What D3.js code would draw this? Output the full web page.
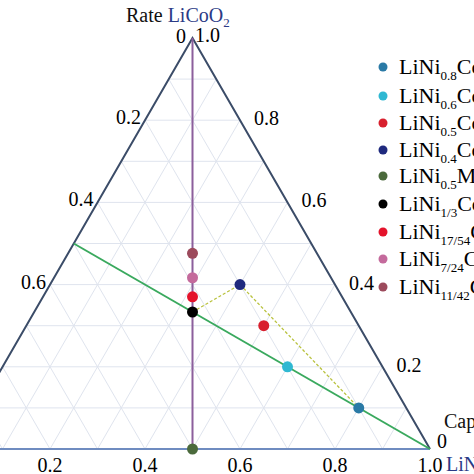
<!DOCTYPE html>
<html><head><meta charset="utf-8">
<script src="https://cdn.jsdelivr.net/npm/d3@7/dist/d3.min.js"></script>
<style>body{margin:0;background:#fff}svg{display:block;font-family:"Liberation Serif","DejaVu Serif",serif}</style>
</head><body><svg id="c" width="474" height="474"></svg>
<script>
// compositions [Ni, Co, Mn]
const names = ["0.8|Co|0.1|Mn|0.1","0.6|Co|0.2|Mn|0.2","0.5|Co|0.3|Mn|0.2","0.4|Co|0.4|Mn|0.2","0.5|Mn|0.5","1/3|Co|1/3|Mn|1/3","17/54|Co|20/54|Mn|17/54","7/24|Co|10/24|Mn|7/24","11/42|Co|20/42|Mn|11/42"];
const ni = [0.8,0.6,0.5,0.4,0.5,1/3,17/54,7/24,11/42];
const co = [0.1,0.2,0.3,0.4,0,1/3,20/54,10/24,20/42];
const colors = ["#2a7aa6","#2fb8d2","#d8202e","#1f2a7e","#4b6a3c","#000000","#e4132b","#c46a9c","#9c4a5c"];
const tickVals = [0.2,0.4,0.6,0.8];
const leftTicks = [0.2,0.4,0.6];
const rightTicks = [0.8,0.6,0.4,0.2];
const dashPath = [5,3,0];

const svg = d3.select("#c");
const x = d3.scaleLinear([0,1],[-45,430]);
const y = d3.scaleLinear([0,1],[449,38]);
const P = (n,c)=>[x(n+c/2), y(c)];
const line = d3.line();

const g = svg.append("g").attr("stroke","#dfe4ee").attr("stroke-width",1).attr("fill","none");
for(let k=1;k<10;k++){
  const t=k/10;
  g.append("path").attr("d",line([P(0,t),P(1-t,t)]));
  g.append("path").attr("d",line([P(t,0),P(t,1-t)]));
  g.append("path").attr("d",line([P(0,t),P(t,0)]));
}
svg.append("path").attr("d",line([P(0,0),P(0,1),P(1,0)])).attr("fill","none").attr("stroke","#3b4c68").attr("stroke-width",2);
svg.append("path").attr("d",line([P(0,0),P(1,0)])).attr("stroke","#6f8cc0").attr("stroke-width",2);

svg.append("path").attr("d",line([P(0,1),P(0.5,0)])).attr("stroke","#8c5f9c").attr("stroke-width",2);
svg.append("path").attr("d",line([P(1,0),P(0,0.5)])).attr("stroke","#3aa95e").attr("stroke-width",2);
svg.append("path").attr("d",line(dashPath.map(i=>P(ni[i],co[i])))).attr("fill","none").attr("stroke","#b9c23e").attr("stroke-width",1.3).attr("stroke-dasharray","3,2");

svg.selectAll("circle.p").data(ni).join("circle").attr("class","p")
  .attr("cx",(d,i)=>P(d,co[i])[0]).attr("cy",(d,i)=>P(d,co[i])[1]).attr("r",5.5).attr("fill",(d,i)=>colors[i]);

const fs=20;
svg.selectAll("text.b").data(tickVals).join("text").attr("class","b").attr("x",d=>x(d)).attr("y",472)
  .attr("text-anchor","middle").attr("font-size",fs).text(d=>d.toFixed(1));
svg.append("text").attr("x",x(1)).attr("y",472).attr("text-anchor","middle").attr("font-size",fs).text("1.0");
svg.selectAll("text.l").data(leftTicks).join("text").attr("class","l")
  .attr("x",d=>P(0,1-d)[0]-4).attr("y",d=>P(0,1-d)[1]+4).attr("text-anchor","end").attr("font-size",fs).text(d=>d.toFixed(1));
svg.selectAll("text.r").data(rightTicks).join("text").attr("class","r")
  .attr("x",d=>P(1-d,d)[0]+14).attr("y",d=>P(1-d,d)[1]+5).attr("font-size",fs).text(d=>d.toFixed(1));
svg.append("text").attr("x",437).attr("y",448).attr("font-size",fs).text("0");
svg.append("text").attr("x",186).attr("y",43).attr("text-anchor","end").attr("font-size",fs).text("0");
svg.append("text").attr("x",195).attr("y",42).attr("font-size",fs).text("1.0");

const t1=svg.append("text").attr("x",126).attr("y",22).attr("font-size",fs);
t1.append("tspan").attr("fill","#111").text("Rate ");
t1.append("tspan").attr("fill","#2b3a86").text("LiCoO");
t1.append("tspan").attr("fill","#2b3a86").attr("font-size",13).attr("dy",5).text("2");
svg.append("text").attr("x",444).attr("y",428).attr("font-size",fs).attr("fill","#111").text("Capacity");
svg.append("text").attr("x",446).attr("y",471).attr("font-size",fs).attr("fill","#2b3a86").text("LiNiO₂");

const ly=[67,96,123,150,176,204,232,259,287];
names.forEach((nm,i)=>{
  svg.append("circle").attr("cx",383).attr("cy",ly[i]).attr("r",4.5).attr("fill",colors[i]);
  const t=svg.append("text").attr("x",399).attr("y",ly[i]+7).attr("font-size",22);
  const parts=nm.split("|");
  t.append("tspan").text("LiNi");
  parts.forEach((p,j)=>{
    if(j%2===0) t.append("tspan").attr("font-size",13).attr("dy",6).text(p);
    else t.append("tspan").attr("font-size",22).attr("dy",-6).text(p);
  });
  t.append("tspan").text("O");
});
</script></body></html>
